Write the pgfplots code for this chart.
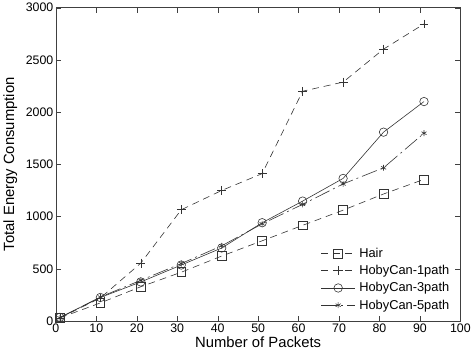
\documentclass[border=0pt]{standalone}
\usepackage{pgfplots}
\pgfplotsset{compat=1.18}
\usepackage{fontspec}
\setmainfont{Liberation Sans}
\begin{document}
\begin{tikzpicture}
\begin{axis}[
  scale only axis,
  width=408bp, height=316bp,
  xmin=0, xmax=100, ymin=0, ymax=3000,
  xtick={0,10,...,100}, ytick={0,500,...,3000},
  tick align=inside,
  tick pos=both,
  major tick length=5bp,
  axis line style={black!75, line width=0.6pt},
  major tick style={black!75},
  /pgf/number format/assume math mode=true,
  scaled y ticks=false,
  yticklabel style={/pgf/number format/1000 sep={}, xshift=1bp},
  xticklabel style={yshift=1bp},
  ticklabel style={font=\fontsize{12.5}{14}\selectfont},
  xlabel={Number of Packets},
  ylabel={Total Energy Consumption},
  label style={font=\fontsize{15}{17}\selectfont},
  xlabel style={yshift=2bp},
  ylabel style={yshift=2bp},
  legend style={draw=none, fill=none, font=\fontsize{13}{14}\selectfont,
    row sep=2.5pt, anchor=south east, at={(0.99,0.02)}, nodes={inner xsep=4pt}},
  legend cell align=left,
  legend image code/.code={\draw[mark repeat=2,mark phase=2,#1] plot coordinates {(0bp,0bp) (17bp,0bp) (34bp,0bp)};},
  every axis plot/.append style={black!80, line width=0.6pt},
]
\addplot[dash pattern=on 7pt off 5pt, mark=square, mark size=4.5pt, mark options={solid}] coordinates {
(1,30) (11,173) (21,328) (31,467) (41,622) (51,768) (61,916) (71,1061) (81,1216) (91,1356)};
\addlegendentry{Hair}
\addplot[dash pattern=on 7pt off 5pt, mark=+, mark size=4.5pt, mark options={solid}] coordinates {
(1,30) (11,220) (21,554) (31,1065) (41,1250) (51,1411) (61,2200) (71,2287) (81,2603) (91,2844)};
\addlegendentry{HobyCan-1path}
\addplot[solid, mark=o, mark size=4.3pt] coordinates {
(1,35) (11,225) (21,374) (31,536) (41,699) (51,941) (61,1148) (71,1365) (81,1808) (91,2101)};
\addlegendentry{HobyCan-3path}
\addplot[dash pattern=on 16pt off 4pt on 2pt off 4pt, mark=asterisk, mark size=3pt, mark options={solid}] coordinates {
(1,30) (11,230) (21,390) (31,550) (41,720) (51,930) (61,1117) (71,1312) (81,1467) (91,1798)};
\addlegendentry{HobyCan-5path}
\end{axis}
\end{tikzpicture}
\end{document}
